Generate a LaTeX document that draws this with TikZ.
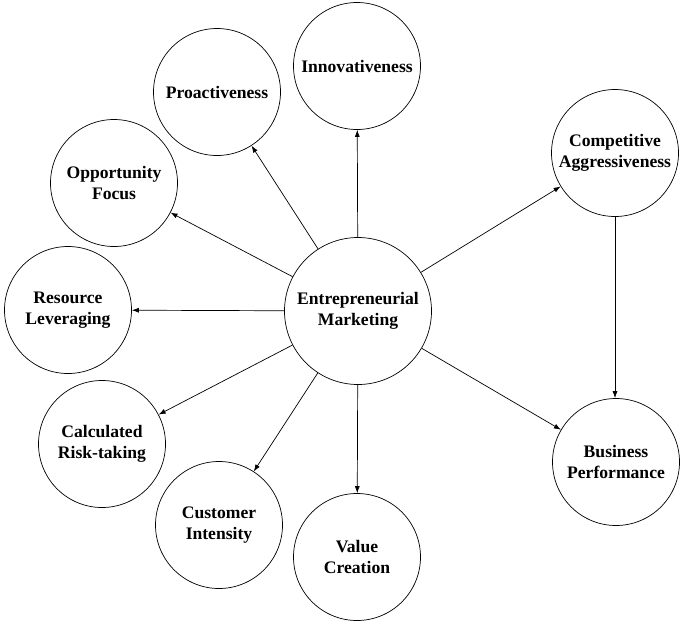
\documentclass[tikz,border=0pt]{standalone}
\usepackage{fontspec}
\setmainfont{Liberation Serif}
\usetikzlibrary{arrows.meta, positioning, shapes.geometric, calc}
\tikzset{
    factor/.style={circle, draw, line width=0.7pt, inner sep=0pt, minimum size=127pt,
      align=center, font=\fontsize{17.6}{21}\selectfont\bfseries},
    link/.style={-{Latex[length=7pt, width=5pt]}, line width=0.7pt},
}

\begin{document}
\begin{tikzpicture}[x=1pt, y=-1pt]
    \useasboundingbox (0,0) rectangle (685,625);

    \node[factor, minimum size=147pt] (em) at (358,311) {Entrepreneurial\\Marketing};

    \node[factor] (inn) at (357,66) {Innovativeness};
    \node[factor] (pro) at (217,92) {Proactiveness};
    \node[factor] (opp) at (114,183) {Opportunity\\Focus};
    \node[factor] (res) at (68,310) {Resource\\Leveraging};
    \node[factor] (cal) at (102,444) {Calculated\\Risk-taking};
    \node[factor] (cus) at (219,525) {Customer\\Intensity};
    \node[factor] (val) at (357,557) {Value\\Creation};
    \node[factor] (com) at (615,153) {Competitive\\Aggressiveness};
    \node[factor] (bus) at (616,462) {Business\\Performance};

    % arrows out of the centre
    \foreach \t in {inn, pro, opp, res, cal, cus, val, com, bus}
      \draw[link] (em) -- (\t);

    \draw[link] (com.south) -- (com.south |- bus.north);
\end{tikzpicture}
\end{document}
